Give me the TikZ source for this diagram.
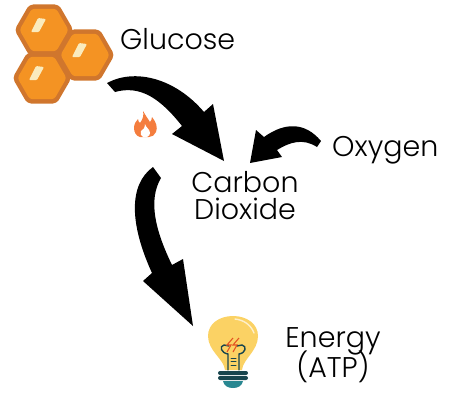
\documentclass[tikz,border=0pt]{standalone}
\usepackage{fontspec}
\setmainfont{Poppins Light}
\usetikzlibrary{shapes.geometric}
\definecolor{hexrimcolor}{RGB}{208,118,45}
\definecolor{hexfillcolor}{RGB}{244,147,35}
\definecolor{hexshinecolor}{RGB}{250,235,190}
\definecolor{flamecolor}{RGB}{244,125,62}
\definecolor{boltcolor}{RGB}{228,85,35}
\definecolor{bulbcolor}{RGB}{251,210,100}
\definecolor{basecolor}{RGB}{24,70,78}
\definecolor{dishcolor}{RGB}{40,135,145}
\tikzset{
  hexrim/.style={regular polygon, regular polygon sides=6, inner sep=0pt, fill=hexrimcolor, rounded corners=4pt, minimum size=59pt},
  hexcore/.style={hexrim, fill=hexfillcolor, rounded corners=3pt, minimum size=49pt},
  labeltext/.style={font=\fontsize{28.5}{28.5}\selectfont, text=black, inner sep=0pt, align=center},
  flowarrow/.style={fill=black},
  filament/.style={draw=basecolor, line width=1.4pt, line cap=round},
  boltln/.style={draw=boltcolor, line width=1.1pt, line join=miter},
}
\newcommand{\hexcell}[3]{%
  \node[hexrim] (#1) at (#2,#3) {};
  \node[hexcore] at (#2,#3) {};
  \fill[hexshinecolor, rounded corners=1pt] (#2-13,#3+2) -- (#2-6,#3-12) -- (#2+2,#3-11) -- (#2-5,#3+2) -- cycle;
}
\begin{document}
\begin{tikzpicture}[x=1pt,y=-1pt]
    \useasboundingbox (0,0) rectangle (474,408);
    % honeycomb
    \hexcell{hextop}{44}{30}
    \hexcell{hexlow}{42}{78}
    \hexcell{hexright}{85}{55}
    % labels
    \node[labeltext, anchor=base west] (glucose) at (120,49) {Glucose};
    \node[labeltext, anchor=base west] (oxygen) at (332,156) {Oxygen};
    \node[labeltext, anchor=base] (carbon) at (245,192) {Carbon};
    \node[labeltext, anchor=base] (dioxide) at (245,219) {Dioxide};
    \node[labeltext, anchor=base] (energy) at (333,347) {Energy};
    \node[labeltext, anchor=base] (atp) at (333,377) {(ATP)};
    % glucose to carbon dioxide
    \coordinate (glucosetail) at (107,83);
    \coordinate (carbontip) at (224,161);
    \fill[flowarrow] (glucosetail) .. controls (135,68) and (175,78) .. (204,112)
      -- (213,104) -- (carbontip) -- (172,134) -- (182,126)
      .. controls (160,98) and (140,85) .. (115,92) -- cycle;
    % oxygen to carbon dioxide
    \coordinate (oxygentail) at (321,141);
    \coordinate (oxygentip) at (250,163);
    \fill[flowarrow] (oxygentail) .. controls (305,122) and (285,122) .. (264,137)
      -- (256,130) -- (oxygentip) -- (282,157) -- (277,150)
      .. controls (290,142) and (303,138) .. (317,147) -- cycle;
    % carbon dioxide to energy
    \coordinate (energytail) at (153,167);
    \coordinate (energytip) at (193,326);
    \fill[flowarrow] (energytail) .. controls (128,185) and (130,225) .. (152,273)
      -- (143,281) -- (energytip) -- (183,259) -- (172,265)
      .. controls (155,230) and (148,200) .. (161,178) -- cycle;
    % flame
    \fill[flamecolor] (143,111) .. controls (146,116) and (148,119) .. (150,122)
      .. controls (151,121) and (152,119) .. (152,117)
      .. controls (156,122) and (158,127) .. (156,132)
      .. controls (155,135) and (152,137) .. (149,137)
      -- (140,137) .. controls (136,136) and (134,132) .. (134,128)
      .. controls (134,124) and (136,121) .. (138,119)
      .. controls (138,121) and (139,122) .. (140,123)
      .. controls (143,119) and (144,115) .. (143,111) -- cycle;
    \fill[white] (145,124) .. controls (146,128) and (150,129) .. (150,133)
      .. controls (150,135) and (149,136) .. (147,137)
      -- (143,137) .. controls (141,136) and (140,134) .. (141,131)
      .. controls (143,130) and (145,128) .. (145,124) -- cycle;
    % bulb
    \fill[bulbcolor] (225,370) .. controls (224,359) and (208,351) .. (208,336)
      .. controls (208,324) and (219,316) .. (233,316)
      .. controls (247,316) and (258,324) .. (258,336)
      .. controls (258,351) and (243,359) .. (242,370) -- cycle;
    \draw[bulbcolor!35!white, line width=1.4pt, line cap=round] (235,319) .. controls (244,320) and (251,325) .. (254,333);
    \draw[filament] (228,370) -- (228,354) .. controls (221,353) and (219,346) .. (224,345) -- (229,346);
    \draw[filament] (239,370) -- (239,354) .. controls (246,353) and (247,346) .. (242,345) -- (237,346);
    \draw[filament, line width=1pt] (231,358) -- (236,358) (231,361.5) -- (236,361.5) (231,365) -- (236,365);
    \draw[boltln] (233,338) -- (227,345) -- (231,345) -- (227,352);
    \draw[boltln] (239,338) -- (233,345) -- (237,345) -- (233,352);
    % base
    \fill[basecolor, rounded corners=2pt] (218,371) rectangle (248,375);
    \fill[basecolor, rounded corners=2pt] (218,376) rectangle (248,380);
    \fill[dishcolor] (223,381) -- (243,381) .. controls (242,386) and (238,388) .. (233,388) .. controls (228,388) and (224,386) .. (223,381) -- cycle;
\end{tikzpicture}
\end{document}
